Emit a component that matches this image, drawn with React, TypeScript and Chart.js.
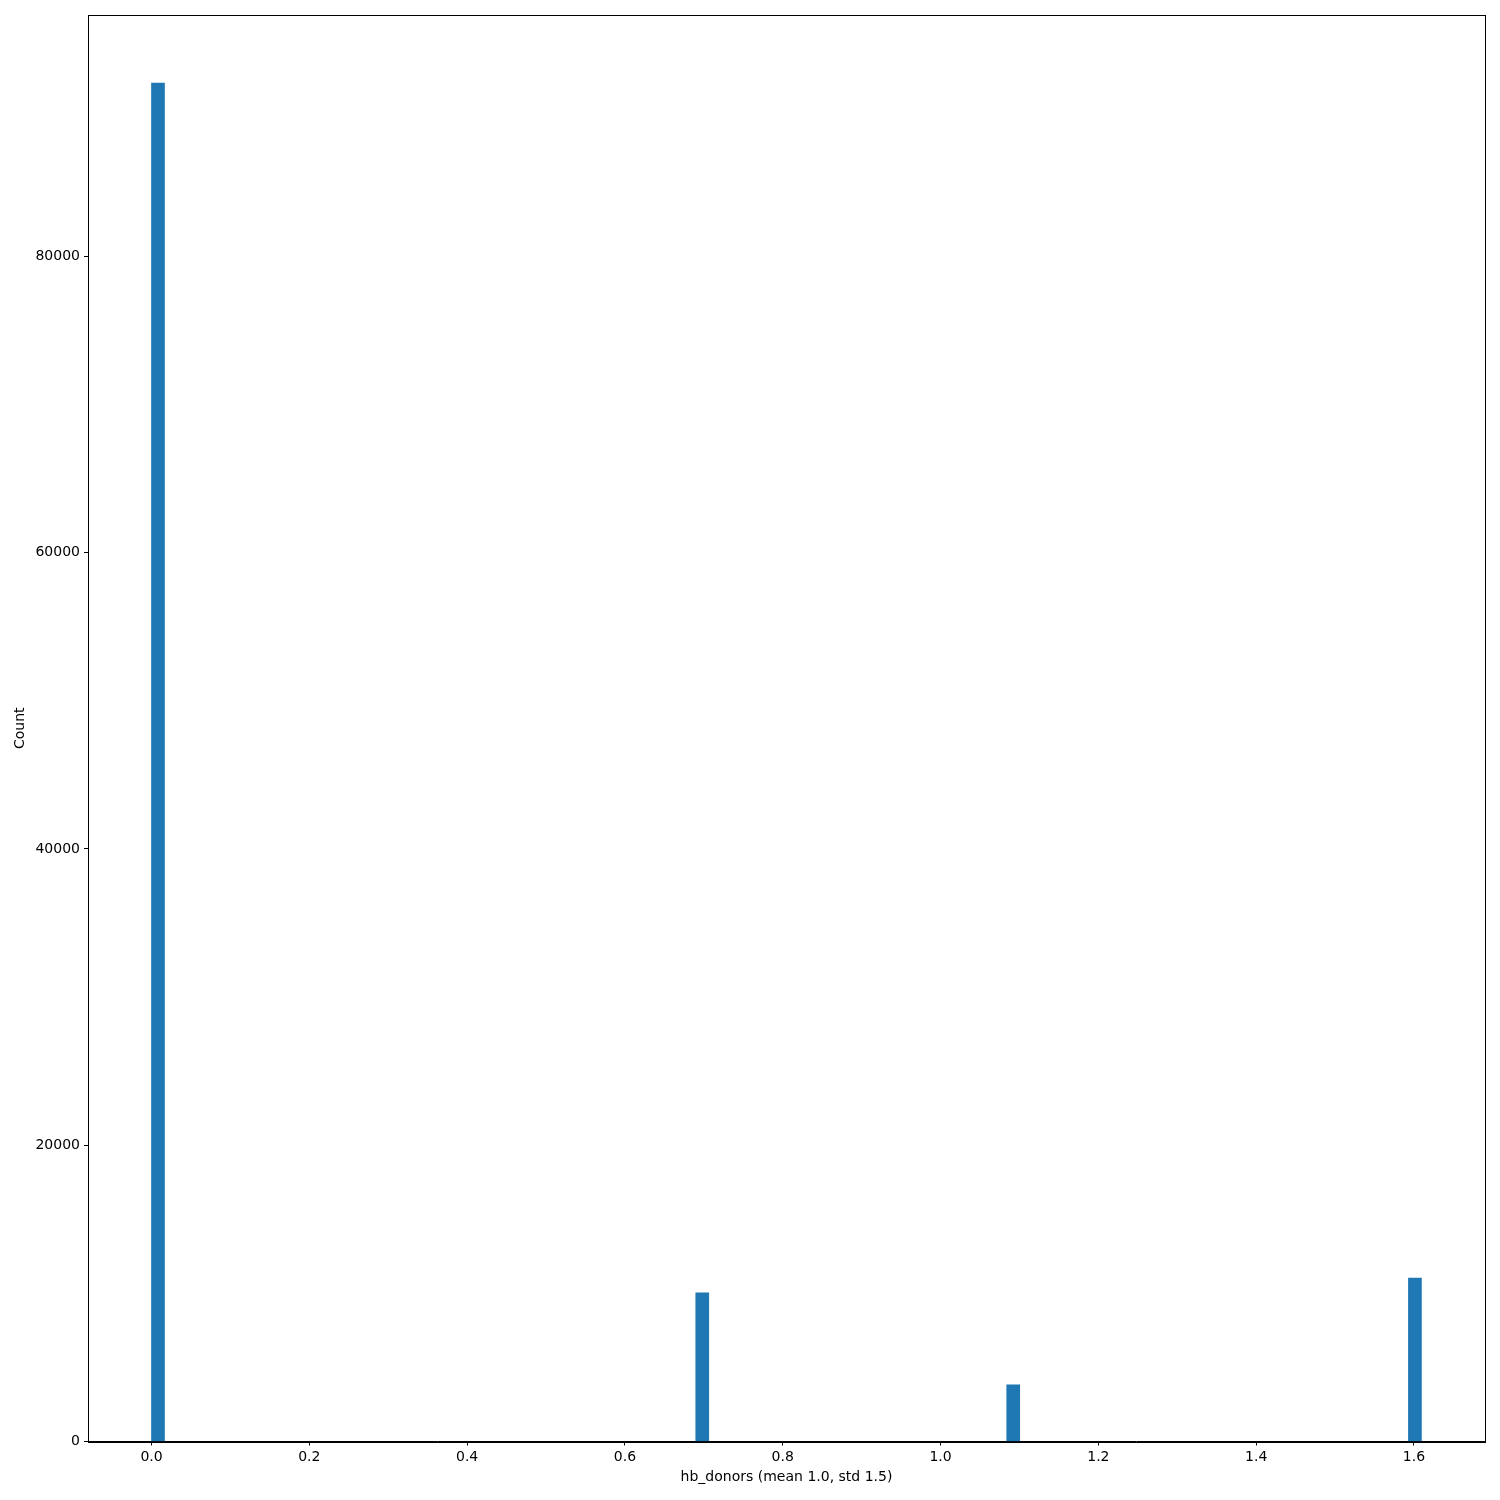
import React, { useEffect, useRef } from "react";
import { Chart, registerables } from "chart.js";

Chart.register(...registerables);

// Histogram bins (centres of the occupied bins) and their counts
const binCenters = [0.0082, 0.698, 1.0921, 1.6012];
const counts = [91700, 10030, 3820, 11040];
const xTicks = [0, 0.2, 0.4, 0.6, 0.8, 1.0, 1.2, 1.4, 1.6];
const yTicks = [0, 20000, 40000, 60000, 80000];
const xMin = -0.0805;
const xMax = 1.69;
const yMax = 96300;
const xLabel = "hb_donors (mean 1.0, std 1.5)";
const yLabel = "Count";

const FONT = "'DejaVu Sans', sans-serif";

const framePlugin = {
  id: "frame",
  afterDraw(chart: any) {
    const { ctx, chartArea } = chart;
    ctx.save();
    ctx.strokeStyle = "#000";
    ctx.lineWidth = 1;
    ctx.strokeRect(
      Math.round(chartArea.left) + 0.5,
      Math.round(chartArea.top) + 0.5,
      Math.round(chartArea.right - chartArea.left),
      Math.round(chartArea.bottom - chartArea.top)
    );
    ctx.restore();
  },
};

export default function App() {
  const ref = useRef<HTMLCanvasElement>(null);
  useEffect(() => {
    if (!ref.current) return;
    const chart = new Chart(ref.current, {
      type: "bar",
      data: {
        datasets: [
          {
            data: binCenters.map((x, i) => ({ x, y: counts[i] })),
            backgroundColor: "#1f77b4",
            borderWidth: 0,
            barThickness: 13,
            grouped: false,
          } as any,
        ],
      },
      options: {
        responsive: false,
        devicePixelRatio: 1,
        animation: false,
        layout: { padding: { top: 15, right: 15, left: 0, bottom: 0 } },
        plugins: { legend: { display: false }, tooltip: { enabled: false } },
        scales: {
          x: {
            type: "linear",
            min: xMin,
            max: xMax,
            offset: false,
            afterBuildTicks: (s: any) => {
              s.ticks = xTicks.map((v) => ({ value: v }));
            },
            afterFit: (s: any) => {
              s.height = 58.5;
            },
            ticks: {
              color: "#000",
              font: { family: FONT, size: 14 },
              padding: 3,
              maxRotation: 0,
              autoSkip: false,
              callback: (v: any) => Number(v).toFixed(1),
            },
            grid: { offset: false, drawOnChartArea: false, drawTicks: true, tickLength: 4, color: "#000" },
            border: { display: true, color: "#000", width: 1 },
            title: {
              display: true,
              text: xLabel,
              color: "#000",
              font: { family: FONT, size: 14 },
              padding: { top: 0, bottom: 14 },
            },
          },
          y: {
            type: "linear",
            min: 0,
            max: yMax,
            afterBuildTicks: (s: any) => {
              s.ticks = yTicks.map((v) => ({ value: v }));
            },
            afterFit: (s: any) => {
              s.width = 88;
            },
            ticks: {
              color: "#000",
              font: { family: FONT, size: 14 },
              padding: 4,
              autoSkip: false,
              callback: (v: any) => String(v),
            },
            grid: { drawOnChartArea: false, drawTicks: true, tickLength: 4, color: "#000" },
            border: { display: true, color: "#000", width: 1 },
            title: {
              display: true,
              text: yLabel,
              color: "#000",
              font: { family: FONT, size: 14 },
              padding: { top: 12, bottom: 0 },
            },
          },
        },
      },
      plugins: [framePlugin],
    });
    return () => chart.destroy();
  }, []);
  return (
    <div style={{ position: "absolute", left: 0, top: 0, width: 1500, height: 1500, background: "#fff" }}>
      <canvas ref={ref} width={1500} height={1500} />
    </div>
  );
}
